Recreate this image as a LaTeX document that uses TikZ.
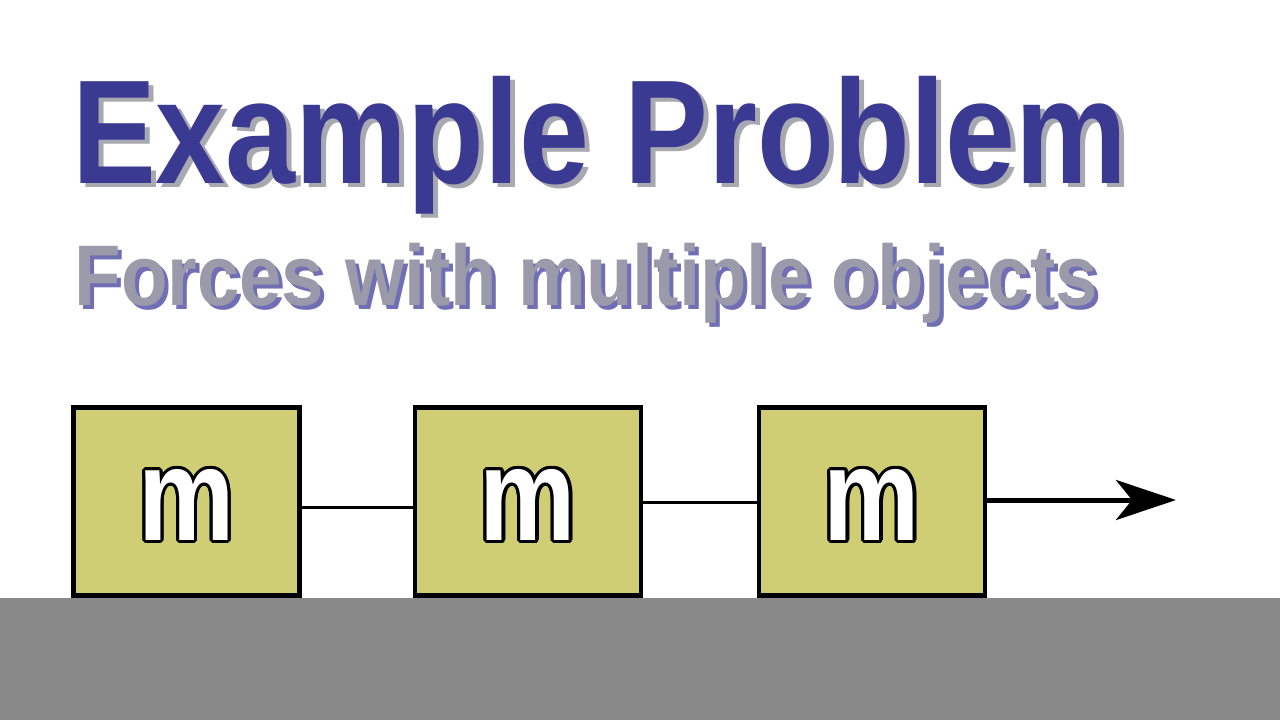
\documentclass[tikz,border=0pt]{standalone}
\usepackage{fontspec}
\usepackage{graphicx}
\setmainfont{Liberation Sans}
\usetikzlibrary{arrows.meta}
\definecolor{titleblue}{RGB}{59,58,147}
\definecolor{titleshadow}{RGB}{168,168,176}
\definecolor{subgray}{RGB}{155,154,170}
\definecolor{subshadow}{RGB}{112,110,180}
\definecolor{boxfill}{RGB}{207,206,116}
\definecolor{ground}{RGB}{137,137,137}
\newcommand{\titletext}{\fontsize{148}{148}\selectfont\bfseries\scalebox{0.85}[1]{Example Problem}}
\newcommand{\subtext}{\fontsize{86}{86}\selectfont\bfseries\scalebox{0.885}[1]{Forces with multiple objects}}
\newcommand{\mtext}{\fontsize{132}{132}\selectfont\bfseries\scalebox{0.82}[1]{m}}
\tikzset{
  massbox/.style={draw=black, line width=4.5pt, fill=boxfill, minimum width=226pt, minimum height=188pt, inner sep=0pt},
  txt/.style={inner sep=0pt, outer sep=0pt},
  rope/.style={line width=3pt, black},
  pull/.style={line width=5pt, black, -{Stealth[length=60pt, width=40pt, inset=16pt]}},
}
\begin{document}
\begin{tikzpicture}[x=1pt,y=-1pt]
\useasboundingbox (0,0) rectangle (1280,720);
\fill[white] (0,0) rectangle (1280,720);
% ground
\fill[ground] (0,598) rectangle (1280,720);
% title
\node[txt, anchor=base west, text=titleshadow] (titleshadow) at (77,187) {\titletext};
\node[txt, anchor=base west, text=titleblue] (title) at (72,183) {\titletext};
% subtitle
\node[txt, anchor=base west, text=subshadow] (subshadow) at (78.5,309.5) {\subtext};
\node[txt, anchor=base west, text=subgray] (subtitle) at (74.5,305) {\subtext};
% boxes
\node[massbox] (b1) at (186.5,501.5) {};
\node[massbox] (b2) at (528,501.5) {};
\node[massbox] (b3) at (872,501.5) {};
% m labels with outline
\foreach \b in {b1,b2,b3}{
  \foreach \a in {0,22.5,...,337.5}{
    \node[txt, anchor=base, text=black, xshift={3.2*cos(\a)*1pt}, yshift={-39pt+3.2*sin(\a)*1pt}] at (\b.center) {\mtext};
  }
  \node[txt, anchor=base, text=white, yshift=-39pt] (m-\b) at (\b.center) {\mtext};
}
% ropes
\draw[rope] (b1.east |- 0,507) -- (b2.west |- 0,507);
\draw[rope] (b2.east |- 0,502) -- (b3.west |- 0,502);
% pulling force
\coordinate (tip) at (1176,500);
\draw[pull] (b3.east |- 0,500) -- (tip);
\end{tikzpicture}
\end{document}
